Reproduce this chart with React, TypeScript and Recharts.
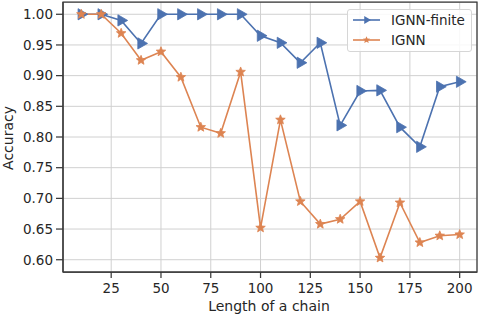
import React from 'react';
import { LineChart, Line, XAxis, YAxis, CartesianGrid, ReferenceArea } from 'recharts';

const lengths = [10, 20, 30, 40, 50, 60, 70, 80, 90, 100, 110, 120, 130, 140, 150, 160, 170, 180, 190, 200];
const ignnFinite = [1.0, 1.0, 0.99, 0.9525, 1.0, 1.0, 1.0, 1.0, 1.0, 0.965, 0.9535, 0.921, 0.9535, 0.819, 0.875, 0.876, 0.816, 0.784, 0.882, 0.89];
const ignn = [1.0, 1.0, 0.969, 0.925, 0.939, 0.8975, 0.816, 0.806, 0.906, 0.652, 0.828, 0.695, 0.658, 0.666, 0.695, 0.603, 0.693, 0.628, 0.639, 0.641];
const xTicks = [25, 50, 75, 100, 125, 150, 175, 200];
const yTicks = [0.6, 0.65, 0.7, 0.75, 0.8, 0.85, 0.9, 0.95, 1.0];
const seriesNames = ['IGNN-finite', 'IGNN'];

const data = lengths.map((l, i) => ({ len: l, finite: ignnFinite[i], ignn: ignn[i] }));

const BLUE = '#4c72b0';
const ORANGE = '#dd8452';
const FONT = 'DejaVu Sans, sans-serif';
const TXT = '#262626';
const SPINE = '#3a3a3a';
const X_DOMAIN: [number, number] = [0.8, 208.7];
const Y_DOMAIN: [number, number] = [0.58, 1.02];

const triPts = (cx: number, cy: number, r: number) =>
  `${cx + r},${cy} ${cx - r / 2},${cy - r * 0.866} ${cx - r / 2},${cy + r * 0.866}`;

const starPts = (cx: number, cy: number, R: number, r: number) => {
  const pts: string[] = [];
  for (let i = 0; i < 10; i++) {
    const rad = i % 2 === 0 ? R : r;
    const a = -Math.PI / 2 + (i * Math.PI) / 5;
    pts.push(`${cx + rad * Math.cos(a)},${cy + rad * Math.sin(a)}`);
  }
  return pts.join(' ');
};

const TriDot = (props: any) => {
  const { cx, cy, index } = props;
  return <polygon key={`t${index}`} points={triPts(cx, cy, 6.5)} fill={BLUE} stroke={BLUE} strokeWidth={0.8} />;
};
const StarDot = (props: any) => {
  const { cx, cy, index } = props;
  return <polygon key={`s${index}`} points={starPts(cx, cy, 5, 2.2)} fill={ORANGE} stroke={ORANGE} strokeWidth={0.8} />;
};

const LegendBox = () => (
  <div
    style={{
      position: 'absolute',
      left: 347,
      top: 9,
      width: 125,
      height: 43,
      border: '1px solid #d6d6d6',
      borderRadius: 3,
      background: 'rgba(255,255,255,0.85)',
      boxSizing: 'border-box',
    }}
  >
    <svg width={125} height={43} style={{ position: 'absolute', left: -1, top: -1 }}>
      <line x1={6} x2={33} y1={11} y2={11} stroke={BLUE} strokeWidth={1.6} />
      <polygon points={triPts(19.5, 11, 4.5)} fill={BLUE} />
      <text x={44} y={16} fontFamily={FONT} fontSize={13.5} fill={TXT}>{seriesNames[0]}</text>
      <line x1={6} x2={33} y1={31} y2={31} stroke={ORANGE} strokeWidth={1.6} />
      <polygon points={starPts(19.5, 31, 3.8, 1.7)} fill={ORANGE} />
      <text x={44} y={36} fontFamily={FONT} fontSize={13.5} fill={TXT}>{seriesNames[1]}</text>
    </svg>
  </div>
);

export default function App() {
  return (
    <div style={{ position: 'absolute', left: 0, top: 0, width: 481, height: 318, background: '#fff' }}>
      <LineChart width={481} height={318} data={data} margin={{ top: 2, right: 4, bottom: 0, left: 0 }}>
        <CartesianGrid stroke="#d0d0d0" strokeWidth={1} vertical horizontal />
        <XAxis
          dataKey="len"
          type="number"
          domain={X_DOMAIN}
          allowDataOverflow
          ticks={xTicks}
          height={46}
          axisLine={{ stroke: SPINE, strokeWidth: 1.25 }}
          tickLine={{ stroke: SPINE, strokeWidth: 1.25 }}
          tickSize={6}
          tick={{ fill: TXT, fontFamily: FONT, fontSize: 13.5, dy: 3 }}
          label={{
            content: () => (
              <text x={269} y={311} textAnchor="middle" fontFamily={FONT} fontSize={14} fill={TXT}>
                Length of a chain
              </text>
            ),
          }}
        />
        <YAxis
          type="number"
          domain={Y_DOMAIN}
          allowDataOverflow
          ticks={yTicks}
          width={63}
          tickFormatter={(v: number) => v.toFixed(2)}
          axisLine={{ stroke: SPINE, strokeWidth: 1.25 }}
          tickLine={{ stroke: SPINE, strokeWidth: 1.25 }}
          tickSize={7}
          tick={{ fill: TXT, fontFamily: FONT, fontSize: 13.5, dx: -1 }}
          label={{
            content: () => (
              <text
                x={13}
                y={138}
                transform="rotate(-90 13 138)"
                textAnchor="middle"
                fontFamily={FONT}
                fontSize={14}
                fill={TXT}
              >
                Accuracy
              </text>
            ),
          }}
        />
        <ReferenceArea x1={X_DOMAIN[0]} x2={X_DOMAIN[1]} y1={Y_DOMAIN[0]} y2={Y_DOMAIN[1]} fill="none" stroke={SPINE} strokeWidth={1.25} ifOverflow="extendDomain" />
        <Line dataKey="finite" name={seriesNames[0]} stroke={BLUE} strokeWidth={1.6} dot={TriDot} isAnimationActive={false} />
        <Line dataKey="ignn" name={seriesNames[1]} stroke={ORANGE} strokeWidth={1.6} dot={StarDot} isAnimationActive={false} />
      </LineChart>
      <LegendBox />
    </div>
  );
}
